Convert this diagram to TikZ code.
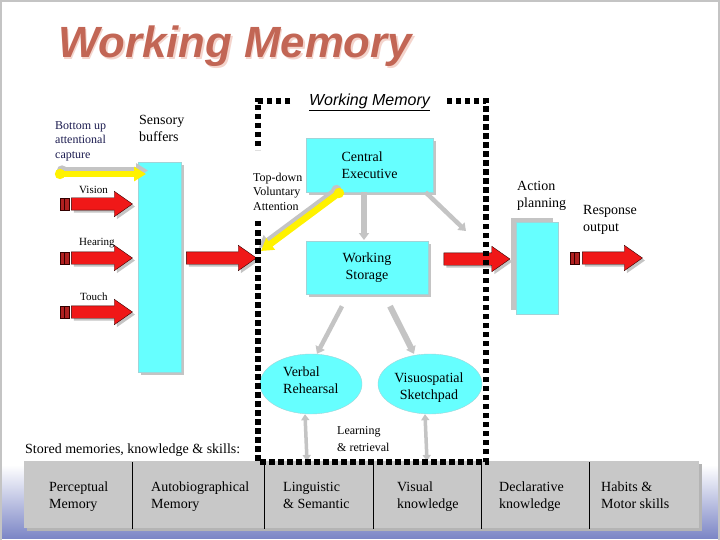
\documentclass[tikz,border=0pt]{standalone}
\usepackage{fontspec}
\setmainfont{Liberation Serif}
\newfontfamily\titlefont{Liberation Sans}
\usetikzlibrary{arrows.meta,shapes.arrows,shapes.geometric,shadows}
\definecolor{buffercyan}{HTML}{66FFFF}
\definecolor{bufferedge}{HTML}{A0D4D8}
\definecolor{shadowgray}{HTML}{C4C4C4}
\definecolor{bargray}{HTML}{C8C8C8}
\definecolor{barshadow}{HTML}{B4B4B4}
\definecolor{arrowred}{HTML}{F01818}
\definecolor{stripered}{HTML}{B02020}
\definecolor{titlered}{HTML}{C26655}
\definecolor{titlepink}{HTML}{F4D4CC}
\definecolor{capturenavy}{HTML}{1C1C50}
\definecolor{slideblue}{HTML}{7C86C6}

\begin{document}
\begin{tikzpicture}
    	[x=1pt, y=-1pt,
    		txt/.style={inner sep=0pt, align=left, anchor=west, font=\fontsize{14}{17}\selectfont},
    		celltxt/.style={inner sep=0pt, align=left, anchor=base west, font=\fontsize{14}{17}\selectfont},
    		smalltxt/.style={inner sep=0pt, align=left, anchor=west, font=\fontsize{12}{14.5}\selectfont},
    		tinytxt/.style={inner sep=0pt, anchor=west, font=\fontsize{11}{13}\selectfont},
    		block/.style={
    		  rectangle,
    		  draw=bufferedge,
    		  fill=buffercyan,
    		  inner sep=0pt,
    		  align=left,
    		  font=\fontsize{14}{17}\selectfont,
    		  drop shadow={shadow xshift=3pt, shadow yshift=-3pt, fill=shadowgray, opacity=1}
    		},
    		blob/.style={
    		  ellipse,
    		  draw=bufferedge,
    		  fill=buffercyan,
    		  inner sep=0pt,
    		  minimum height=60pt
    		},
    		redarrow/.style={
    		  single arrow,
    		  draw=black!80!red,
    		  fill=arrowred,
    		  inner sep=0pt,
    		  text height=12pt,
    		  text depth=0pt,
    		  minimum width=25pt,
    		  single arrow head extend=6.5pt,
    		  single arrow tip angle=70,
    		  single arrow head indent=0pt,
    		  drop shadow={shadow xshift=2.5pt, shadow yshift=-2.5pt, fill=shadowgray, opacity=1}
    		},
    		stripe/.style={
    		  rectangle,
    		  draw=black!80!red,
    		  fill=stripered,
    		  inner sep=0pt,
    		  minimum height=12pt
    		},
    		grayarrow/.style={draw=shadowgray, line width=4.5pt, -{Triangle[length=7pt,width=10pt]}},
    		graydouble/.style={draw=shadowgray, line width=3.5pt, {Triangle[length=6pt,width=8pt]}-{Triangle[length=6pt,width=8pt]}},
    		yellowarrow/.style={draw=yellow, line width=6.5pt, {Circle[length=10pt]}-{Triangle[length=12pt,width=14pt]}},
    		yellowshade/.style={draw=shadowgray, line width=6.5pt, {Circle[length=10pt]}-{Triangle[length=12pt,width=14pt]}},
    		dotbox/.style={draw=black, line width=5.5pt, dash pattern=on 5.5pt off 3.5pt}
    	]
    	\useasboundingbox (0,0) rectangle (720,540);

    	% slide background
    	\fill[white] (0,0) rectangle (720,540);
    	\shade[top color=white, bottom color=slideblue] (2,465) rectangle (718,538);
    	\fill[shadowgray] (0,0) rectangle (720,2);
    	\fill[shadowgray] (0,0) rectangle (2,540);
    	\fill[shadowgray] (718,0) rectangle (720,540);

    	% title
    	\node[inner sep=0pt, anchor=base west, text=titlepink, font=\titlefont\bfseries\itshape\fontsize{43.7}{44}\selectfont] (titleshade) at (59.5,59.5) {Working Memory};
    	\node[inner sep=0pt, anchor=base west, text=titlered, font=\titlefont\bfseries\itshape\fontsize{43.7}{44}\selectfont] (title) at (58,58) {Working Memory};

    	% stored memories
    	\fill[barshadow] (27,464) rectangle (702,531);
    	\node[rectangle, fill=bargray, inner sep=0pt, minimum width=675pt, minimum height=67pt] (bar) at (361.5,494.5) {};
    	\foreach \x in {132,264,373,481,589}
    		\draw[black, line width=0.8pt] (\x,462) -- (\x,529);
    	\node[celltxt] (perceptual) at (49,508) {Perceptual\\Memory};
    	\node[celltxt] (autobio) at (151,508) {Autobiographical\\Memory};
    	\node[celltxt] (linguistic) at (283,508) {Linguistic\\\& Semantic};
    	\node[celltxt] (visualk) at (397,508) {Visual\\knowledge};
    	\node[celltxt] (declarative) at (499,508) {Declarative\\knowledge};
    	\node[celltxt] (habits) at (601,508) {Habits \&\\Motor skills};
    	\node[txt] (stored) at (25,450) {Stored memories, knowledge \& skills:};

    	% buffers
    	\node[block, minimum width=43pt, minimum height=210pt] (buffers) at (159.5,267) {};
    	\fill[shadowgray] (511,218) rectangle (553,310);
    	\node[rectangle, draw=bufferedge, fill=buffercyan, minimum width=42pt, minimum height=92pt, inner sep=0pt] (action) at (537,268) {};

    	% senses
    	\foreach \name/\ypos in {vision/204, hearing/258, touch/312} {
    		\node[stripe, minimum width=3.5pt] (\name a) at (62,\ypos) {};
    		\node[stripe, minimum width=5pt] (\name b) at (66.5,\ypos) {};
    		\node[redarrow, minimum height=61pt] (\name) at (97.5,\ypos) {};
    	}
    	\node[redarrow, minimum height=70pt] (tostore) at (217,258) {};
    	\node[redarrow, minimum height=66pt] (toaction) at (472.5,259) {};
    	\node[stripe, minimum width=3.5pt] (responsea) at (572,258) {};
    	\node[stripe, minimum width=5pt] (responseb) at (576.5,258) {};
    	\node[redarrow, minimum height=60pt] (response) at (608,258) {};

    	% working memory parts
    	\node[block, minimum width=127pt, minimum height=54pt] (central) at (369.5,165) {Central\\Executive};
    	\node[block, minimum width=122pt, minimum height=53pt, align=center] (storage) at (367,267.5) {Working\\Storage};
    	\node[blob, minimum width=102pt] (verbal) at (311,384) {};
    	\node[blob, minimum width=104pt] (visuo) at (430,384) {};
    	\node[txt] (verbaltxt) at (283,380.5) {Verbal\\Rehearsal};
    	\node[txt, anchor=center, align=center] (visuotxt) at (429,387.5) {Visuospatial\\Sketchpad};

    	% gray connectors
    	\coordinate (outward) at (466,231);
    	\coordinate (barvisual) at (427,461);
    	\coordinate (barverbal) at (307,461);
    	\draw[grayarrow, line width=6.5pt] (364,192) -- (364,240);
    	\draw[grayarrow] ([xshift=56pt]central.south) -- (outward);
    	\draw[grayarrow] ([xshift=-25pt,yshift=-12pt]storage.south) -- ([xshift=6pt]verbal.north);
    	\draw[grayarrow, line width=6pt] ([xshift=23pt,yshift=-12pt]storage.south) -- ([xshift=-16pt]visuo.north);
    	\draw[graydouble] (verbal.south -| 305,0) -- (barverbal);
    	\draw[graydouble] (visuo.south -| 425,0) -- (barvisual);

    	% yellow connectors
    	\coordinate (capture) at (55,174);
    	\coordinate (capturetip) at (146,174);
    	\coordinate (topdown) at (343,190);
    	\coordinate (topdowntip) at (261,251);
    	\draw[yellowshade, transform canvas={xshift=2pt,yshift=3.5pt}] (capture) -- (capturetip);
    	\draw[yellowarrow] (capture) -- (capturetip);
    	\draw[yellowshade, transform canvas={xshift=-2.5pt,yshift=3pt}] (topdown) -- (topdowntip);
    	\draw[yellowarrow] (topdown) -- (topdowntip);

    	% dotted frame
    	\coordinate (framea) at (290,101);
    	\coordinate (frameb) at (258,101);
    	\coordinate (framec) at (258,150);
    	\coordinate (framed) at (258,221);
    	\coordinate (framee) at (258,462);
    	\coordinate (framef) at (486,462);
    	\coordinate (frameg) at (486,101);
    	\coordinate (frameh) at (447,101);
    	\draw[dotbox] (framea) -- (frameb) -- (framec);
    	\draw[dotbox] (framed) -- (framee) -- (framef) -- (frameg) -- (frameh);
    	\node[inner sep=0pt, anchor=base, font=\titlefont\itshape\fontsize{16}{16}\selectfont] (frametitle) at (369.5,105.5) {\underline{Working Memory}};

    	% free labels
    	\node[smalltxt, text=capturenavy] (bottomup) at (55,141) {Bottom up\\attentional\\capture};
    	\node[txt] (sensory) at (139,128.5) {Sensory\\buffers};
    	\node[tinytxt] (visiontxt) at (79,190) {Vision};
    	\node[tinytxt] (hearingtxt) at (79,243) {Hearing};
    	\node[tinytxt] (touchtxt) at (80,297) {Touch};
    	\node[smalltxt] (topdowntxt) at (253,191.5) {Top-down\\Voluntary\\Attention};
    	\node[txt] (actiontxt) at (517,196) {Action\\planning};
    	\node[txt] (responsetxt) at (583,219.5) {Response\\output};
    	\node[smalltxt, font=\fontsize{12}{17}\selectfont] (learning) at (337,439.5) {Learning\\\& retrieval};
\end{tikzpicture}
\end{document}
